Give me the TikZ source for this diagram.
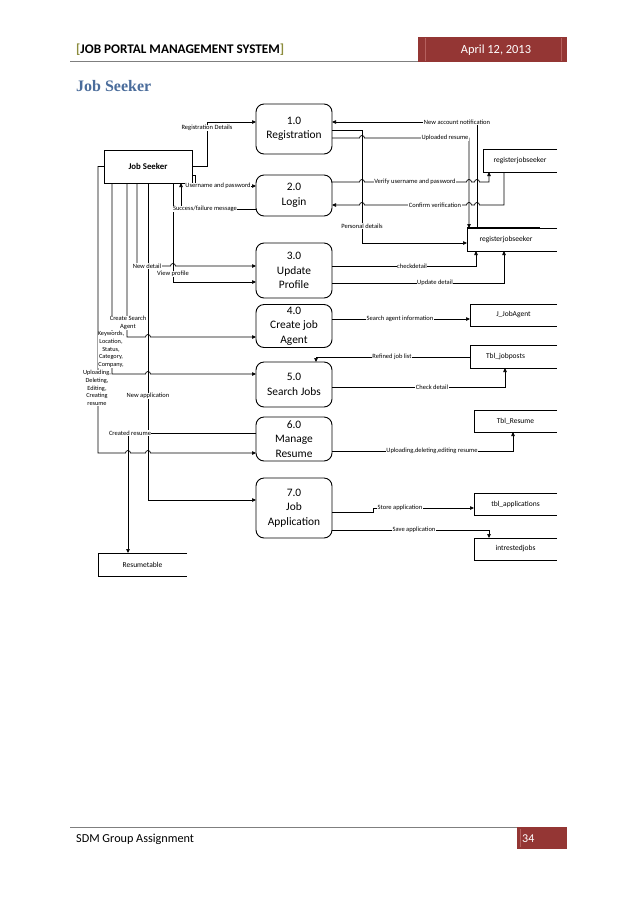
\documentclass[tikz,border=0pt]{standalone}
\usepackage{fontspec}
\setmainfont{Carlito}
\newfontfamily\titlefont{Liberation Serif}
\usetikzlibrary{arrows.meta}
\definecolor{hdrred}{HTML}{943634}
\definecolor{hdrline}{HTML}{B5605E}
\definecolor{olivebr}{HTML}{8C8C3C}
\definecolor{titleblue}{HTML}{4A6C9B}
\definecolor{rulegray}{HTML}{7F7F7F}
\newcommand\storeframe[1]{\draw[line width=0.8pt] (#1.north east) -- (#1.north west) -- (#1.south west) -- (#1.south east);}
\begin{document}
\begin{tikzpicture}[x=1pt,y=1pt,
  proc/.style={draw, line width=0.9pt, rounded corners=8pt, minimum width=76pt, inner sep=0pt, outer sep=0pt, align=center, font=\fontsize{11.4}{14.5}\selectfont},
  store/.style={inner sep=0pt, outer sep=0pt, minimum height=23pt, font=\fontsize{7.5}{8}\selectfont},
  lbl/.style={fill=white, inner sep=0.5pt, align=center, font=\fontsize{6.5}{8.2}\selectfont},
  lblm/.style={lbl, inner sep=0pt, font=\fontsize{6.3}{7.7}\selectfont},
  flow/.style={line width=0.7pt, -{Triangle[length=4pt,width=3.5pt]}},
  plain/.style={line width=0.7pt}]
\useasboundingbox (0,0) rectangle (638,-903);
\fill[white] (0,0) rectangle (638,-903);

% header
\node[anchor=west, inner sep=0pt, font=\bfseries\fontsize{13.2}{15}\selectfont] (hdr) at (76,-50) {\textcolor{olivebr}{[}JOB PORTAL MANAGEMENT SYSTEM\textcolor{olivebr}{]}};
\draw[rulegray, line width=0.8pt] (70,-61.5) -- (418,-61.5);
\fill[hdrred] (418,-37) rectangle (567,-62);
\draw[hdrline, line width=0.4pt] (425,-38) -- (425,-61) (561,-38) -- (561,-61);
\node[white, inner sep=0pt, font=\fontsize{12.4}{14}\selectfont] (date) at (496,-50) {April 12, 2013};

% title
\node[anchor=west, inner sep=0pt, text=titleblue, font=\titlefont\bfseries\fontsize{16}{18}\selectfont] (ttl) at (76,-86) {Job Seeker};

% footer
\draw[rulegray, line width=0.8pt] (70,-827) -- (517,-827);
\fill[hdrred] (517,-827) rectangle (567,-849);
\draw[hdrline, line width=0.4pt] (520.5,-829) -- (520.5,-847);
\node[anchor=west, inner sep=0pt, font=\fontsize{12.2}{14}\selectfont] (ftr) at (76,-839) {SDM Group Assignment};
\node[anchor=west, white, inner sep=0pt, font=\fontsize{12}{14}\selectfont] (pg) at (522,-839) {34};

% processes
\node[proc, minimum height=50pt] (P1) at (294,-129) {1.0\\Registration};
\node[proc, minimum height=41pt] (P2) at (294,-195.5) {2.0\\Login};
\node[proc, minimum height=55pt] (P3) at (294,-270.5) {3.0\\Update\\Profile};
\node[proc, minimum height=43pt] (P4) at (294,-326) {4.0\\Create job\\Agent};
\node[proc, minimum height=45pt] (P5) at (294,-384.5) {5.0\\Search Jobs};
\node[proc, minimum height=44pt] (P6) at (294,-439) {6.0\\Manage\\Resume};
\node[proc, minimum height=60pt] (P7) at (294,-508) {7.0\\Job\\Application};

% external entity
\node[draw, line width=0.9pt, minimum width=88pt, minimum height=33pt, inner sep=0pt, outer sep=0pt, font=\bfseries\fontsize{8.8}{10}\selectfont] (JS) at (148,-166.5) {Job Seeker};

% data stores
\node[store, minimum width=74pt] (DS1) at (520,-160.5) {registerjobseeker};
\node[store, minimum width=90pt] (DS2) at (512,-239.5) {\hspace*{-12pt}registerjobseeker};
\node[store, minimum width=87pt, minimum height=22pt] (DS3) at (513.5,-315) {J\_JobAgent};
\node[store, minimum width=87pt] (DS4) at (513.5,-356.5) {\hspace*{-16pt}Tbl\_jobposts};
\node[store, minimum width=83pt, minimum height=22pt] (DS5) at (515.5,-421) {Tbl\_Resume};
\node[store, minimum width=83pt, minimum height=22pt] (DS6) at (515.5,-504) {tbl\_applications};
\node[store, minimum width=83pt, minimum height=22pt] (DS7) at (515.5,-549) {intrestedjobs};
\node[store, minimum width=89pt] (DS8) at (142.5,-564.5) {Resumetable};
\storeframe{DS1}
\storeframe{DS2}
\storeframe{DS3}
\storeframe{DS4}
\storeframe{DS5}
\storeframe{DS6}
\storeframe{DS7}
\storeframe{DS8}
\draw[line width=2pt] (DS2.north west) -- ([xshift=73pt]DS2.north west);

% connectors, right side
\draw[flow] (JS.east) -- (207,-166.5) -- (207,-122) -- ([yshift=7pt]P1.west);
\draw[flow] ([yshift=-8.5pt]JS.east) -- (195,-175) -- (195,-186) -- ([yshift=9.5pt]P2.west);
\draw[flow] ([yshift=-13.5pt]P2.west) -- (181,-209) -- ([xshift=33pt]JS.south);
\draw[flow] ([xshift=-35pt]DS2.north) -- (477,-122) -- ([yshift=7pt]P1.east);
\draw[flow] ([yshift=-1pt]P1.east) -- (362,-130) -- (362,-243) -- ([yshift=-3.5pt]DS2.west);
\draw[flow] ([yshift=-9pt]P1.east) -- (359.5,-138) arc[start angle=180,end angle=0,radius=2.5] -- (469,-138) -- ([xshift=-43pt]DS2.north);
\draw[flow] ([yshift=13.5pt]P2.east) -- (359.5,-182) arc[start angle=180,end angle=0,radius=2.5]
  -- (466.5,-182) arc[start angle=180,end angle=0,radius=2.5]
  -- (474.5,-182) arc[start angle=180,end angle=0,radius=2.5]
  -- (489,-182) -- ([xshift=-31pt]DS1.south);
\draw[flow] ([xshift=-16pt]DS1.south) -- (504,-205) -- (479.5,-205) arc[start angle=0,end angle=180,radius=2.5]
  -- (471.5,-205) arc[start angle=0,end angle=180,radius=2.5]
  -- (364.5,-205) arc[start angle=0,end angle=180,radius=2.5]
  -- ([yshift=-9.5pt]P2.east);
\draw[flow] ([yshift=4.5pt]P3.east) -- (476,-266) -- ([xshift=-36pt]DS2.south);
\draw[flow] ([yshift=-12.5pt]P3.east) -- (504,-283) -- ([xshift=-8pt]DS2.south);
\draw[flow] ([yshift=7pt]P4.east) -- ([yshift=-4pt]DS3.west);
\draw[flow] ([yshift=-0.5pt]DS4.west) -- (316,-357) -- ([xshift=22pt]P5.north);
\draw[flow] ([yshift=-2.5pt]P5.east) -- (505,-387) -- ([xshift=-8.5pt]DS4.south);
\draw[flow] ([yshift=-12pt]P6.east) -- (513,-451) -- ([xshift=-2.5pt]DS5.south);
\draw[flow] ([yshift=-4pt]P7.east) -- (373,-512) -- (373,-508) -- ([yshift=-4pt]DS6.west);
\draw[flow] ([yshift=-22pt]P7.east) -- (489,-530) -- ([xshift=-26.5pt]DS7.north);

% connectors, left side
\draw[flow] (JS.west) -- (98,-166.5) -- (98,-453) -- (125.5,-453) arc[start angle=180,end angle=0,radius=2.5]
  -- (145.5,-453) arc[start angle=180,end angle=0,radius=2.5] -- ([yshift=-14pt]P6.west);
\draw[flow] ([xshift=-36pt]JS.south) -- (112,-374) -- (145.5,-374) arc[start angle=180,end angle=0,radius=2.5] -- ([yshift=10.5pt]P5.west);
\draw[flow] ([xshift=-21pt]JS.south) -- (127,-337) -- (145.5,-337) arc[start angle=180,end angle=0,radius=2.5] -- ([yshift=-11pt]P4.west);
\draw[flow] ([xshift=-11pt]JS.south) -- (137,-266) -- (170.5,-266) arc[start angle=180,end angle=0,radius=2.5] -- ([yshift=4.5pt]P3.west);
\draw[flow] ([xshift=25pt]JS.south) -- (173,-282) -- ([yshift=-11.5pt]P3.west);
\draw[flow] (JS.south) -- (148,-500) -- ([yshift=8pt]P7.west);
\draw[flow] ([yshift=6pt]P6.west) -- (128,-433) -- ([xshift=-14.5pt]DS8.north);

% labels
\node[lbl] (L1) at (207,-128) {Registration Details};
\node[lbl] (L2) at (218,-186) {Username and password};
\node[lbl] (L3) at (205,-209) {Success/failure message};
\node[lbl] (L4) at (457,-122) {New account notification};
\node[lbl] (L5) at (362,-226) {Personal details};
\node[lbl] (L6) at (445,-138) {Uploaded resume};
\node[lbl] (L7) at (415,-182) {Verify username and password};
\node[lbl] (L8) at (435,-205) {Confirm verification};
\node[lbl] (L9) at (412,-266) {checkdetail};
\node[lbl] (L10) at (435,-283) {Update detail};
\node[lbl] (L11) at (400,-319) {Search agent information};
\node[lbl] (L12) at (392,-357) {Refined job list};
\node[lbl] (L13) at (432,-387) {Check detail};
\node[lbl] (L14) at (432,-451) {Uploading,deleting,editing resume};
\node[lbl] (L15) at (400,-508) {Store application};
\node[lbl] (L16) at (414,-530) {Save application};
\node[lbl] (L17) at (147,-266) {New detail};
\node[lbl] (L18) at (173,-274) {View profile};
\node[lbl] (L19) at (128,-323) {Create Search\\Agent};
\node[lblm] (L20) at (111,-349.5) {Keywords,\\Location,\\Status,\\Category,\\Company,};
\node[lblm] (L21) at (97,-388) {Uploading,\\Deleting,\\Editing,\\Creating\\resume};
\node[lbl] (L22) at (148,-396) {New application};
\node[lbl] (L23) at (130,-433) {Created resume};
\end{tikzpicture}
\end{document}
